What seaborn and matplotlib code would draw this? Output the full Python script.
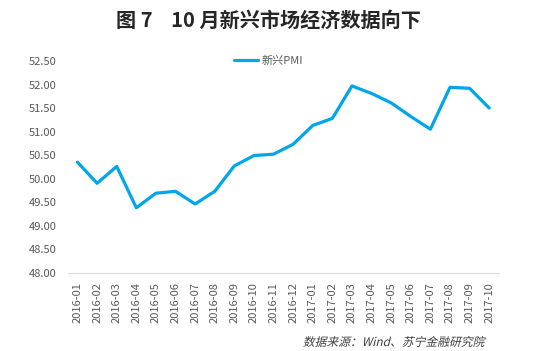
import numpy as np
import pandas as pd
import matplotlib
matplotlib.use('Agg')
import matplotlib.pyplot as plt
from matplotlib.ticker import FixedLocator
from matplotlib.textpath import TextPath
from matplotlib.font_manager import FontProperties
from matplotlib.patches import PathPatch
from matplotlib.transforms import Affine2D
import seaborn as sns

# 新兴市场PMI 月度数据
months = ['2016-01', '2016-02', '2016-03', '2016-04', '2016-05', '2016-06',
          '2016-07', '2016-08', '2016-09', '2016-10', '2016-11', '2016-12',
          '2017-01', '2017-02', '2017-03', '2017-04', '2017-05', '2017-06',
          '2017-07', '2017-08', '2017-09', '2017-10']
pmi = [50.35, 49.90, 50.26, 49.38, 49.69, 49.73, 49.46, 49.73, 50.27, 50.49,
       50.52, 50.73, 51.13, 51.28, 51.97, 51.81, 51.61, 51.32, 51.05, 51.94,
       51.92, 51.50]
yticks = [48.0, 48.5, 49.0, 49.5, 50.0, 50.5, 51.0, 51.5, 52.0, 52.5]

sns.set_style('white')
plt.rcParams['font.family'] = ['Noto Sans CJK SC', 'DejaVu Sans']

df = pd.DataFrame({'month': months, '新兴PMI': pmi})
df['x'] = np.arange(len(months))

dpi = 100
fig = plt.figure(figsize=(5.36, 3.51), dpi=dpi)
ax = fig.add_axes([67.7 / 536, 1 - 272.7 / 351, (499 - 67.7) / 536, (272.7 - 61) / 351])

sns.lineplot(data=df, x='x', y='新兴PMI', color='#00A6E8', linewidth=2.3,
             label='新兴PMI', ax=ax)

ax.set_xlim(-0.5, len(months) - 0.5)
ax.set_ylim(48.0, 52.5)
ax.set_yticks(yticks)
ax.set_yticklabels([f'{v:.2f}' for v in yticks], color='#595959', fontsize=8)
ax.set_xticks(df['x'])
ax.set_xticklabels(months, rotation=90, color='#595959', fontsize=8)
ax.xaxis.set_minor_locator(FixedLocator(np.arange(-0.5, len(months), 1.0)))
ax.tick_params(axis='x', which='major', length=0, pad=7)
ax.tick_params(axis='x', which='minor', length=4, color='#D9D9D9', width=0.8)
ax.tick_params(axis='y', length=0, pad=8)
ax.set_xlabel('')
ax.set_ylabel('')
for side in ['top', 'right', 'left']:
    ax.spines[side].set_visible(False)
ax.spines['bottom'].set_color('#D9D9D9')
ax.spines['bottom'].set_linewidth(0.8)

leg = ax.legend(loc='center', bbox_to_anchor=(0.465, 1.0), frameon=False,
                fontsize=8, handlelength=2.2, handletextpad=0.3)
for t in leg.get_texts():
    t.set_color('#595959')

fig.text(0.5, 1 - 20 / 351, '图 7    10 月新兴市场经济数据向下', ha='center', va='center',
         fontsize=14.5, fontweight='bold')

# 来源文字：CJK字体没有斜体，用倾斜变换的路径画
src = '数据来源：Wind、苏宁金融研究院'
tp = TextPath((0, 0), src, size=8.5, prop=FontProperties(family='Noto Sans CJK SC'))
w = tp.get_extents().x1
px = dpi / 72.0
trans = (Affine2D().skew_deg(14, 0).scale(px)
         .translate(484 - w * px, 351 - 346))
fig.add_artist(PathPatch(tp, transform=trans, facecolor='#404040', edgecolor='none'))

fig.savefig('out.png', dpi=dpi)
